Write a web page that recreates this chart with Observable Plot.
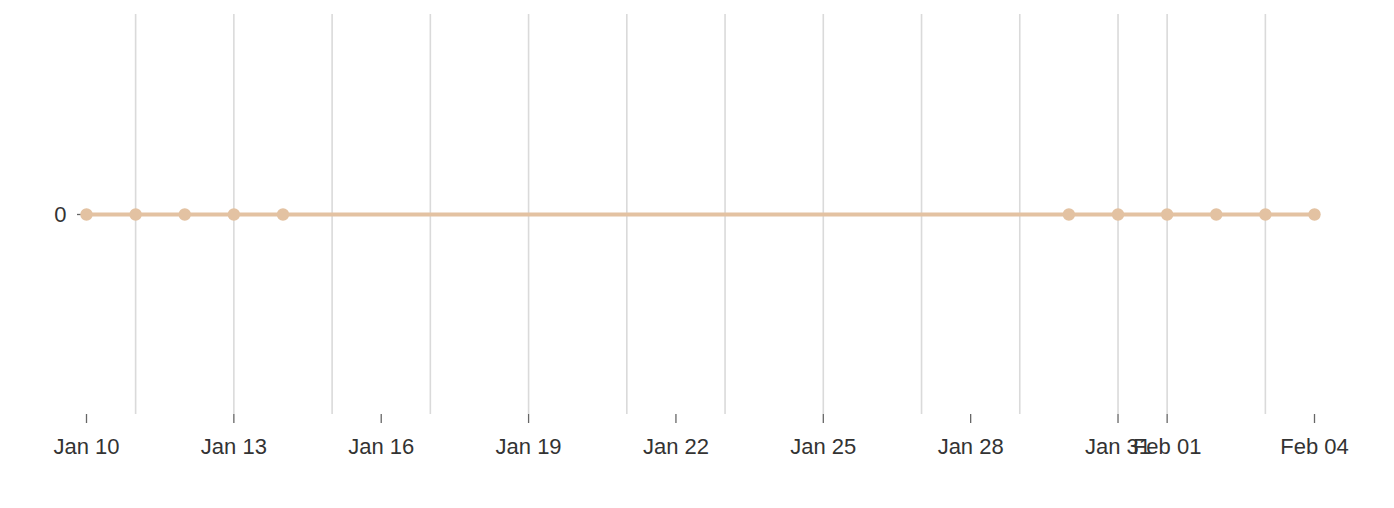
<!DOCTYPE html>
<html><head><meta charset="utf-8">
<script src="https://cdn.jsdelivr.net/npm/d3@7"></script>
<script src="https://cdn.jsdelivr.net/npm/@observablehq/plot@0.6"></script>
<style>body{margin:0;background:#fff}</style>
</head><body><div id="chart"></div>
<script>
const dates = ["2024-01-10","2024-01-11","2024-01-12","2024-01-13","2024-01-14",
               "2024-01-30","2024-01-31","2024-02-01","2024-02-02","2024-02-03","2024-02-04"];
const values = [0,0,0,0,0,0,0,0,0,0,0];
const yTicks = [0];

const data = dates.map((d, i) => ({date: new Date(d + "T00:00:00Z"), value: values[i]}));

const chart = Plot.plot({
  width: 1394, height: 508,
  marginTop: 14, marginLeft: 86, marginRight: 80, marginBottom: 94,
  style: {fontFamily: "'Liberation Sans', Arial, Helvetica, sans-serif", fontSize: "22px", color: "#333", background: "#fff"},
  x: {type: "utc", domain: [data[0].date, data[data.length - 1].date]},
  y: {domain: [-1, 1]},
  marks: [
    Plot.gridX({ticks: d3.utcDay.every(2), stroke: "#dadada", strokeOpacity: 1, strokeWidth: 1.6}),
    Plot.axisX({ticks: d3.utcDay.every(3), tickFormat: d3.utcFormat("%b %d"), tickSize: 9, tickPadding: 15, stroke: "#666", strokeWidth: 1.3, label: null}),
    Plot.axisY({ticks: yTicks, tickFormat: d3.format("d"), tickSize: 9, tickPadding: 11, stroke: "#666", strokeWidth: 1.3, label: null}),
    Plot.line(data, {x: "date", y: "value", stroke: "#e3c2a2", strokeWidth: 4}),
    Plot.dot(data, {x: "date", y: "value", fill: "#e3c2a2", r: 6.2})
  ]
});
document.getElementById("chart").appendChild(chart);
</script>
</body></html>
